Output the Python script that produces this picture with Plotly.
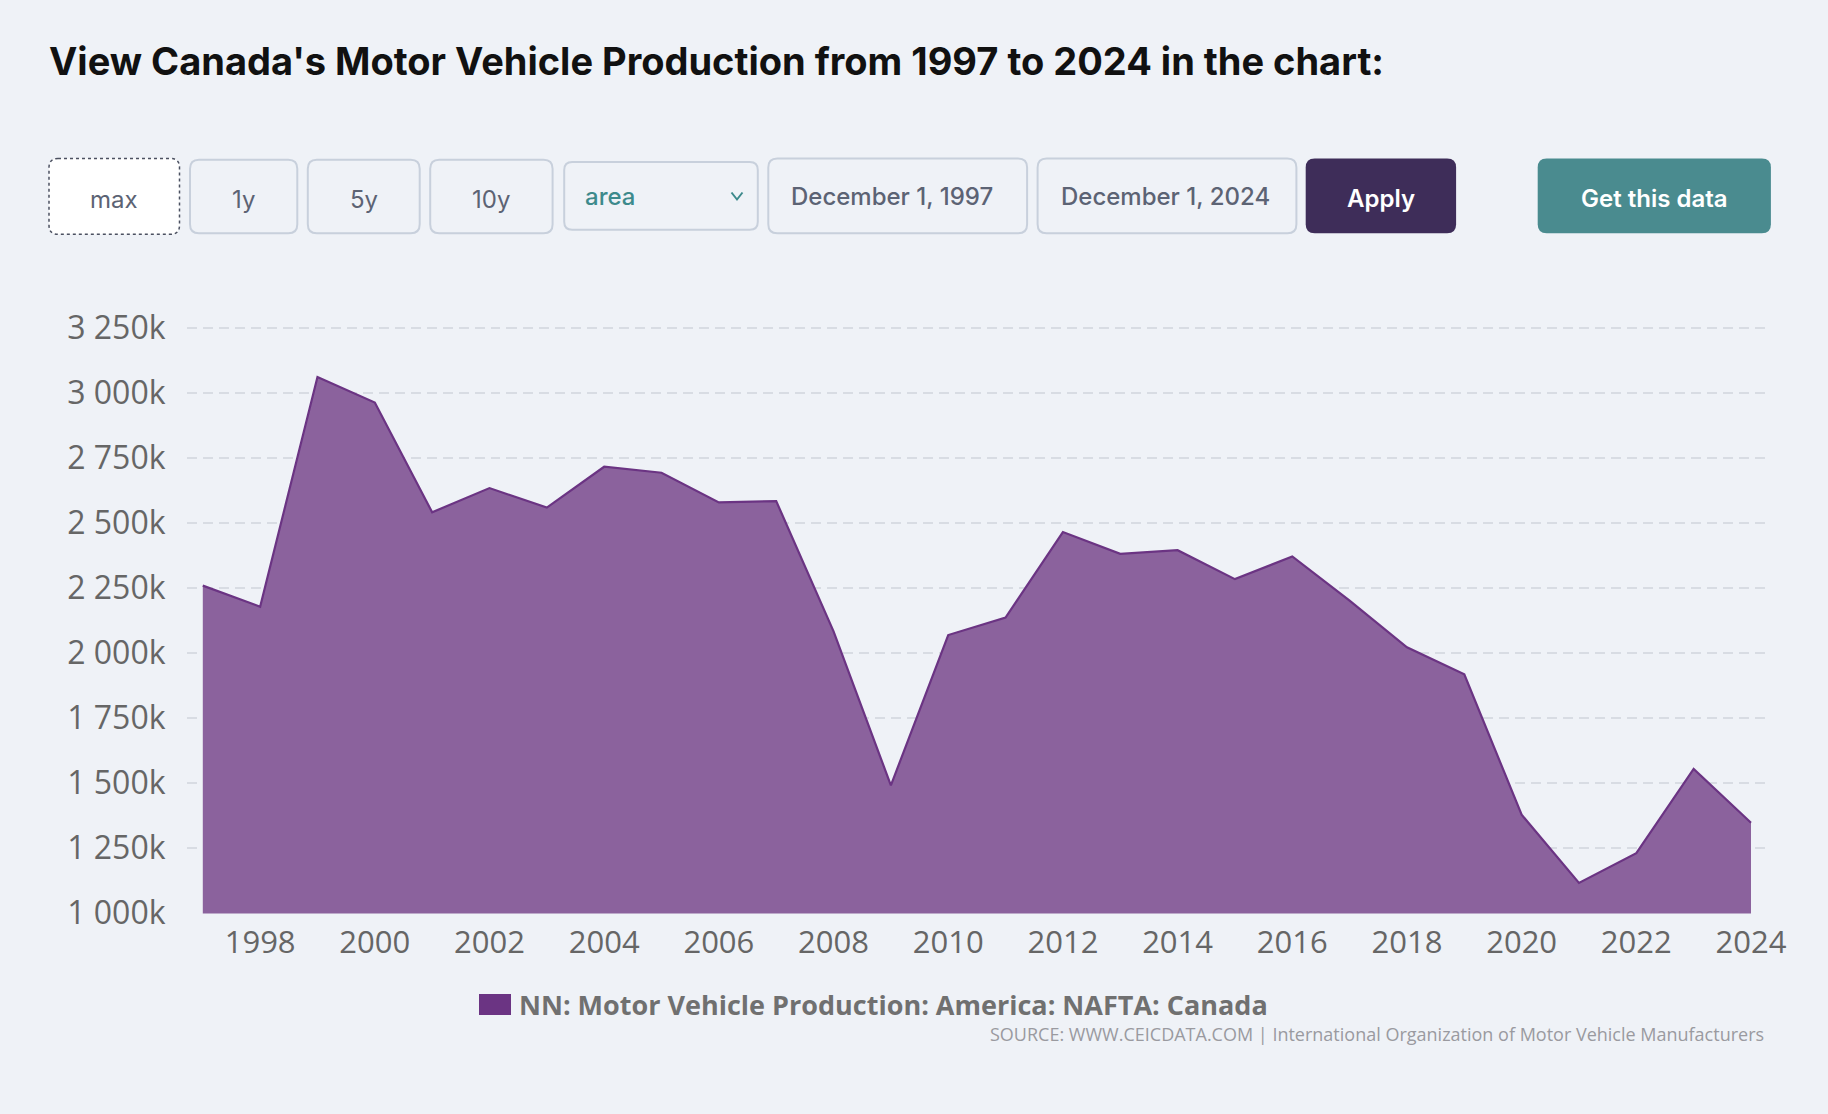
import plotly.graph_objects as go

# ---------------- data ----------------
years = list(range(1997, 2025))
production_k = [2258, 2177, 3060, 2962, 2540, 2633, 2558, 2715, 2692, 2578,
                2583, 2082, 1490, 2068, 2135, 2464, 2380, 2394, 2283, 2370,
                2200, 2021, 1917, 1377, 1115, 1229, 1553, 1346]
production = [v * 1000 for v in production_k]

y_tick_values = [1000000, 1250000, 1500000, 1750000, 2000000, 2250000,
                 2500000, 2750000, 3000000, 3250000]
y_tick_labels = ["1 000k", "1 250k", "1 500k", "1 750k", "2 000k", "2 250k",
                 "2 500k", "2 750k", "3 000k", "3 250k"]
x_tick_values = list(range(1998, 2025, 2))
x_tick_labels = [str(y) for y in x_tick_values]

title_text = "View Canada's Motor Vehicle Production from 1997 to 2024 in the chart:"
series_name = "NN: Motor Vehicle Production: America: NAFTA: Canada"
source_text = "SOURCE: WWW.CEICDATA.COM | International Organization of Motor Vehicle Manufacturers"
range_buttons = ["max", "1y", "5y", "10y"]
chart_type = "area"
date_from = "December 1, 1997"
date_to = "December 1, 2024"

# ---------------- page geometry ----------------
W, H = 1828, 1114
BG = "#eff2f7"


def X(px):
    return px / W


def Y(py):
    return 1 - py / H


def rrect(x0, y0, x1, y1, r):
    pts = [
        ("M", [(x0 + r, y0)]), ("L", [(x1 - r, y0)]), ("Q", [(x1, y0), (x1, y0 + r)]),
        ("L", [(x1, y1 - r)]), ("Q", [(x1, y1), (x1 - r, y1)]), ("L", [(x0 + r, y1)]),
        ("Q", [(x0, y1), (x0, y1 - r)]), ("L", [(x0, y0 + r)]), ("Q", [(x0, y0), (x0 + r, y0)]),
    ]
    s = ""
    for cmd, ps in pts:
        s += cmd + " " + " ".join(f"{X(a):.6f},{Y(b):.6f}" for a, b in ps) + " "
    return s + "Z"


plot_left, plot_right = 186.5, 1766
px_per_250k = (912.8 - 327.6) / 9
y_lo, y_hi = 997000, 3256000
plot_bottom = 912.8 + (1000000 - y_lo) / 250000 * px_per_250k
plot_top = 327.6 - (y_hi - 3250000) / 250000 * px_per_250k
px_per_year = (1751 - 202.8) / 27
x_min = 1997 - (202.8 - plot_left) / px_per_year
x_max = 2024 + (plot_right - 1751) / px_per_year

LINE = "#6b3483"
FILL = "rgb(139,98,157)"
AXIS_GREY = "#666666"
CHART_FONT = "Open Sans, Noto Sans, sans-serif"

fig = go.Figure()
fig.add_trace(go.Scatter(
    x=years, y=production, mode="lines", name=series_name,
    line=dict(color=LINE, width=2.2), fill="tozeroy", fillcolor=FILL,
    showlegend=False, hoverinfo="x+y",
))

shapes = []
annotations = []

# title
annotations.append(dict(
    x=X(47), y=Y(61), xref="paper", yref="paper", xanchor="left", yanchor="middle",
    text="<b>" + title_text + "</b>", showarrow=False,
    font=dict(family="Inter, Roboto, sans-serif", size=38, color="#111111"),
))

# buttons
BTN_BORDER = "#c8d0dc"
BTN_TEXT = "#5c6374"
BTN_FONT = "Inter, sans-serif"
btn_boxes = [(49.0, 158.5, 179.5, 234.3), (190.0, 159.7, 297.3, 233.2),
             (307.8, 159.7, 419.7, 233.2), (430.2, 159.7, 552.6, 233.2)]
for i, (label, (x0, y0, x1, y1)) in enumerate(zip(range_buttons, btn_boxes)):
    if i == 0:
        shapes.append(dict(type="path", path=rrect(x0, y0, x1, y1, 9), xref="paper", yref="paper",
                           fillcolor="white", line=dict(color="#4b5060", width=1.5, dash="dot"),
                           layer="above"))
    else:
        shapes.append(dict(type="path", path=rrect(x0, y0, x1, y1, 9), xref="paper", yref="paper",
                           fillcolor=BG, line=dict(color=BTN_BORDER, width=2), layer="above"))
    annotations.append(dict(x=X((x0 + x1) / 2), y=Y(199), xref="paper", yref="paper",
                            xanchor="center", yanchor="middle", text=label, showarrow=False,
                            font=dict(family=BTN_FONT, size=24, color=BTN_TEXT)))

# select box
shapes.append(dict(type="path", path=rrect(564.2, 162.0, 757.8, 229.7, 8), xref="paper", yref="paper",
                   fillcolor=BG, line=dict(color=BTN_BORDER, width=2), layer="above"))
annotations.append(dict(x=X(583), y=Y(196), xref="paper", yref="paper", xanchor="left",
                        yanchor="middle", text=chart_type, showarrow=False,
                        font=dict(family=BTN_FONT, size=24, color="#3d8a8c", weight=500)))
shapes.append(dict(type="path",
                   path=f"M {X(731.5):.6f},{Y(192.5):.6f} L {X(737):.6f},{Y(199.5):.6f} L {X(742.5):.6f},{Y(192.5):.6f}",
                   xref="paper", yref="paper", line=dict(color="#3d8a8c", width=2), layer="above"))

# date boxes
for (x0, x1), label in zip([(768.3, 1027.1), (1037.6, 1296.4)], [date_from, date_to]):
    shapes.append(dict(type="path", path=rrect(x0, 158.5, x1, 233.2, 9), xref="paper", yref="paper",
                       fillcolor=BG, line=dict(color=BTN_BORDER, width=2), layer="above"))
    annotations.append(dict(x=X(x0 + 21), y=Y(196), xref="paper", yref="paper",
                            xanchor="left", yanchor="middle", text=label, showarrow=False,
                            font=dict(family=BTN_FONT, size=24, color=BTN_TEXT, weight=500)))

# Apply / Get this data
shapes.append(dict(type="path", path=rrect(1305.7, 158.5, 1456.1, 233.2, 9), xref="paper", yref="paper",
                   fillcolor="#3e2d59", line=dict(width=0), layer="above"))
annotations.append(dict(x=X(1381), y=Y(198), xref="paper", yref="paper", xanchor="center",
                        yanchor="middle", text="Apply", showarrow=False,
                        font=dict(family=BTN_FONT, size=24, color="white", weight=600)))
shapes.append(dict(type="path", path=rrect(1537.7, 158.5, 1770.9, 233.2, 9), xref="paper", yref="paper",
                   fillcolor="#4a8b8f", line=dict(width=0), layer="above"))
annotations.append(dict(x=X(1654), y=Y(198), xref="paper", yref="paper", xanchor="center",
                        yanchor="middle", text="Get this data", showarrow=False,
                        font=dict(family=BTN_FONT, size=24, color="white", weight=600)))

# legend
shapes.append(dict(type="rect", x0=X(479), x1=X(511), y0=Y(994), y1=Y(1015), xref="paper", yref="paper",
                   fillcolor=LINE, line=dict(width=0)))
annotations.append(dict(x=X(517), y=Y(1004), xref="paper", yref="paper", xanchor="left",
                        yanchor="middle", text="<b>" + series_name + "</b>", showarrow=False,
                        font=dict(family=CHART_FONT, size=27, color="#707070")))

# source
annotations.append(dict(x=X(1766), y=Y(1034), xref="paper", yref="paper", xanchor="right",
                        yanchor="middle", text=source_text, showarrow=False,
                        font=dict(family=CHART_FONT, size=18, color="#9a9aa0")))

fig.update_layout(
    width=W, height=H, autosize=False,
    margin=dict(l=0, r=0, t=0, b=0, pad=0),
    paper_bgcolor=BG, plot_bgcolor=BG,
    shapes=shapes, annotations=annotations,
    showlegend=False,
    xaxis=dict(
        domain=[X(plot_left), X(plot_right)], range=[x_min, x_max],
        tickmode="array", tickvals=x_tick_values, ticktext=x_tick_labels,
        showgrid=False, zeroline=False, showline=False, ticks="",
        ticklabelstandoff=7, automargin=False,
        tickfont=dict(family=CHART_FONT, size=31, color=AXIS_GREY),
    ),
    yaxis=dict(
        domain=[Y(plot_bottom), Y(plot_top)], range=[y_lo, y_hi],
        tickmode="array", tickvals=y_tick_values, ticktext=y_tick_labels,
        showgrid=True, gridcolor="#d8dce3", gridwidth=1.5, griddash="10px,6px",
        zeroline=False, showline=False, ticks="",
        ticklabelstandoff=20, automargin=False,
        tickfont=dict(family=CHART_FONT, size=32, color=AXIS_GREY),
    ),
)

fig.write_html("out.html")
